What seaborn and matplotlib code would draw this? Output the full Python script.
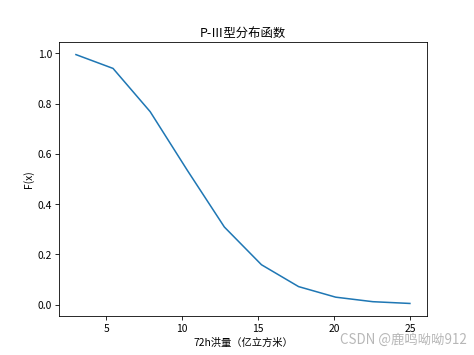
import numpy as np
import pandas as pd
import matplotlib
matplotlib.use("Agg")
import matplotlib.pyplot as plt
import seaborn as sns

plt.rcParams['font.family'] = ['Noto Sans CJK SC', 'DejaVu Sans']
plt.rcParams['axes.unicode_minus'] = False

x_vals = [3.0, 5.444, 7.889, 10.333, 12.778, 15.222, 17.667, 20.111, 22.556, 25.0]
f_vals = [0.995, 0.940, 0.768, 0.535, 0.309, 0.159, 0.072, 0.030, 0.012, 0.005]

df = pd.DataFrame({"x": x_vals, "F": f_vals})

fig = plt.figure(figsize=(6.4, 4.8), dpi=474 / 6.4)
ax = fig.add_subplot(111)
sns.lineplot(data=df, x="x", y="F", ax=ax, color="#1f77b4", linewidth=1.5)
ax.set_title("P-Ⅲ型分布函数")
ax.set_xlabel("72h洪量（亿立方米）")
ax.set_ylabel("F(x)")
ax.set_xticks([5, 10, 15, 20, 25])
ax.set_yticks([0.0, 0.2, 0.4, 0.6, 0.8, 1.0])

fig.text(0.985, 0.025, "CSDN @鹿鸣呦呦912", ha="right", va="bottom",
         fontsize=13, color="#b0b0b0", alpha=0.9)

fig.savefig("out.png", dpi=474 / 6.4)
